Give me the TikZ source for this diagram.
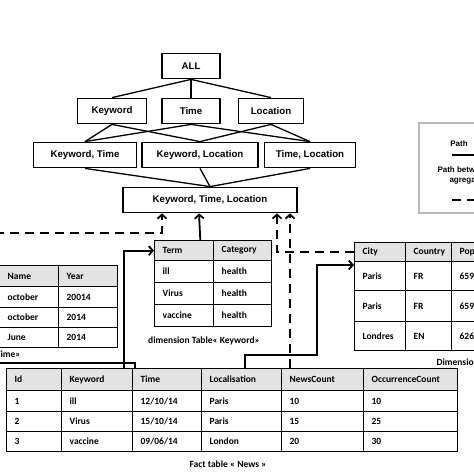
\documentclass[tikz,border=0pt]{standalone}
\usepackage{fontspec}
\setmainfont{Carlito}
\newfontfamily\arialfont{Liberation Sans}
\usetikzlibrary{arrows.meta}

\tikzset{
    level/.style={draw, line width=1.8pt, minimum height=25pt, inner sep=2pt,
        font=\arialfont\bfseries\fontsize{9.7}{11}\selectfont},
    cell/.style={draw, line width=1.3pt, anchor=north west, inner xsep=8pt,
        inner ysep=0pt, align=left, font=\bfseries\fontsize{9.5}{11}\selectfont},
    headcell/.style={cell, fill=gray!22},
    caption/.style={font=\bfseries\fontsize{9.5}{11}\selectfont},
    spath/.style={line width=1.8pt, -{Straight Barb[length=4pt,width=9pt]}},
    dpath/.style={spath, dash pattern=on 9pt off 6pt},
}

\begin{document}
\begin{tikzpicture}[x=1pt, y=-1pt]
    \useasboundingbox (0,0) rectangle (474,474);
    \clip (0,0) rectangle (474,474);

    % aggregation lattice
    \begin{scope}[every node/.style={level}]
        \node[minimum width=58pt] (all) at (191,66) {ALL};
        \node[minimum width=69pt] (kw) at (112,111) {Keyword};
        \node[minimum width=58pt] (tm) at (191,111) {Time};
        \node[minimum width=65pt] (loc) at (271,111) {Location};
        \node[minimum width=103pt] (kwtm) at (85,155) {Keyword, Time};
        \node[minimum width=116pt] (kwloc) at (200,155) {Keyword,\ Location};
        \node[minimum width=91pt] (tmloc) at (310,155) {Time, Location};
        \node[minimum width=174pt] (ktl) at (210,200) {Keyword, Time, Location};
    \end{scope}

    \begin{scope}[every edge/.style={draw=black, line width=1.3pt}]
        \path (all.south) edge (kw.north);
        \path (all.south) edge (tm.north);
        \path (all.south) edge (loc.north);
        \path (kw.south) edge (kwtm.north);
        \path (kw.south) edge (kwloc.north);
        \path (tm.south) edge (kwtm.north);
        \path (tm.south) edge (tmloc.north);
        \path (loc.south) edge (kwloc.north);
        \path (loc.south) edge (tmloc.north);
        \path (kwtm.south) edge (ktl.north);
        \path (kwloc.south) edge (ktl.north);
        \path (tmloc.south) edge (ktl.north);
    \end{scope}

    % dimension table Time
    \foreach \x/\w/\a/\b/\c/\d [count=\i] in {-1/59/Name/october/october/June,
        58/59/Year/20014/2014/2014} {
        \pgfmathsetmacro\tw{\w-16}
        \node[headcell, text width=\tw pt, minimum height=21pt] (t-0-\i) at (\x,265) {\a};
        \node[cell, text width=\tw pt, minimum height=21pt] (t-1-\i) at (\x,286) {\b};
        \node[cell, text width=\tw pt, minimum height=20pt] (t-2-\i) at (\x,307) {\c};
        \node[cell, text width=\tw pt, minimum height=20pt] (t-3-\i) at (\x,327) {\d};
    }
    \node[caption, anchor=east] (tcap) at (24,354) {dimension Table« Time»};

    % dimension table Keyword
    \foreach \x/\w/\a/\b/\c/\d [count=\i] in {154/59/Term/ill/Virus/vaccine,
        213/58/Category/health/health/health} {
        \pgfmathsetmacro\tw{\w-16}
        \node[headcell, text width=\tw pt, minimum height=20pt] (k-0-\i) at (\x,240) {\a};
        \node[cell, text width=\tw pt, minimum height=22pt] (k-1-\i) at (\x,260) {\b};
        \node[cell, text width=\tw pt, minimum height=22pt] (k-2-\i) at (\x,282) {\c};
        \node[cell, text width=\tw pt, minimum height=22pt] (k-3-\i) at (\x,304) {\d};
    }
    \node[caption] (kcap) at (204,341) {dimension Table« Keyword»};

    % dimension table Location
    \begin{scope}[every node/.append style={font=\bfseries\fontsize{8.8}{10}\selectfont}]
    \foreach \x/\w/\a/\b/\c/\d [count=\i] in {354/51/City/Paris/Paris/Londres,
        405/46/Country/FR/FR/EN, 451/60/Population/659/659/626} {
        \pgfmathsetmacro\tw{\w-16}
        \node[headcell, text width=\tw pt, minimum height=19pt] (c-0-\i) at (\x,242) {\a};
        \node[cell, text width=\tw pt, minimum height=29pt] (c-1-\i) at (\x,261) {\b};
        \node[cell, text width=\tw pt, minimum height=31pt] (c-2-\i) at (\x,290) {\c};
        \node[cell, text width=\tw pt, minimum height=29pt] (c-3-\i) at (\x,321) {\d};
    }
    \end{scope}
    \node[caption, anchor=west] (ccap) at (433,362) {Dimension Table« Location»};

    % fact table News
    \foreach \x/\w/\a/\b/\c/\d [count=\i] in {6/55/Id/1/2/3,
        61/71/Keyword/ill/Virus/vaccine,
        132/69/Time/{12/10/14}/{15/10/14}/{09/06/14},
        201/80/Localisation/Paris/Paris/London,
        281/82/NewsCount/10/15/20,
        363/94/OccurrenceCount/10/25/30} {
        \pgfmathsetmacro\tw{\w-16}
        \node[headcell, text width=\tw pt, minimum height=22pt] (f-0-\i) at (\x,368) {\a};
        \node[cell, text width=\tw pt, minimum height=21pt] (f-1-\i) at (\x,390) {\b};
        \node[cell, text width=\tw pt, minimum height=20pt] (f-2-\i) at (\x,411) {\c};
        \node[cell, text width=\tw pt, minimum height=20pt] (f-3-\i) at (\x,431) {\d};
    }
    \node[caption] (fcap) at (228,464) {Fact table « News »};

    % legend
    \draw[gray!55, line width=1.3pt] (419,123) rectangle (540,213);
    \node[caption, font=\arialfont\bfseries\fontsize{8}{9}\selectfont] (lg1) at (459,144) {Path};
    \node[caption, anchor=west, font=\arialfont\bfseries\fontsize{8}{9}\selectfont] (lg2) at (434,170) {Path between};
    \node[caption, anchor=west, font=\arialfont\bfseries\fontsize{8}{9}\selectfont] (lg3) at (446,181) {agregates};
    \draw[line width=1.8pt] (452,155) -- (500,155);
    \draw[line width=1.8pt, dash pattern=on 9pt off 6pt] (452,200) -- (500,200);

    % paths between tables
    \coordinate (timein) at (-5,233);
    \coordinate (timeout) at (-5,363);
    \coordinate (locbend) at (317,355);
    \draw[dpath] (timein) -| ([xshift=-48pt]ktl.south);
    \draw[spath] ([xshift=-14pt]k-0-1.north east) -- ([xshift=-11pt]ktl.south);
    \draw[dpath] (c-0-1.west) -| ([xshift=67pt]ktl.south);
    \draw[dpath] ([xshift=9pt]f-0-5.north west) -- ([xshift=80pt]ktl.south);
    \draw[spath] ([xshift=-9pt]f-0-2.north east) |- (k-0-1.west);
    \draw[line width=1.8pt] (timeout) -| ([xshift=3pt]f-0-3.north west);
    \draw[spath] ([xshift=44pt]f-0-4.north west) |- (locbend) |- ([yshift=-4pt]c-1-1.north west);
\end{tikzpicture}
\end{document}
